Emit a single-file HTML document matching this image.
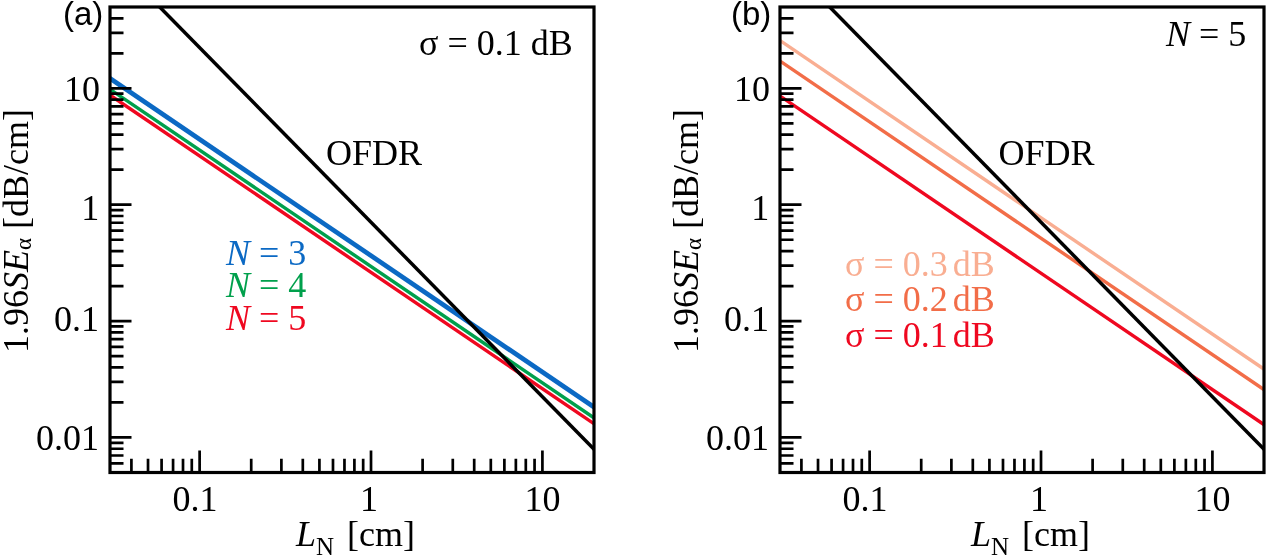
<!DOCTYPE html>
<html><head><meta charset="utf-8"><title>Figure</title>
<style>html,body{margin:0;padding:0;background:#fff;}body{width:1267px;height:557px;overflow:hidden;}svg{display:block;}</style>
</head><body>
<svg width="1267" height="557" viewBox="0 0 1267 557">
<rect width="1267" height="557" fill="#fff"/>
<g transform="translate(0,0)">
<clipPath id="clip0"><rect x="110.0" y="7.0" width="484.0" height="465.5"/></clipPath>
<g clip-path="url(#clip0)" fill="none" stroke-linecap="butt">
<path d="M105,91.75 L599,427.17" stroke="#ef0820" stroke-width="3.4"/>
<path d="M105,85.85 L599,421.27" stroke="#00a04c" stroke-width="3.4"/>
<path d="M105,75.05 L599,410.47" stroke="#0b69c4" stroke-width="4.7"/>
<path d="M105,-48.7 L599,454.44" stroke="#000" stroke-width="3.5"/>
</g>
<path d="M110.0,463.29 h13.5 M110.0,455.49 h13.5 M110.0,448.75 h13.5 M110.0,442.79 h13.5 M110.0,437.47 h21.5 M110.0,402.44 h13.5 M110.0,381.94 h13.5 M110.0,367.4 h13.5 M110.0,356.12 h13.5 M110.0,346.91 h13.5 M110.0,339.12 h13.5 M110.0,332.37 h13.5 M110.0,326.42 h13.5 M110.0,321.09 h21.5 M110.0,286.06 h13.5 M110.0,265.57 h13.5 M110.0,251.03 h13.5 M110.0,239.75 h13.5 M110.0,230.54 h13.5 M110.0,222.74 h13.5 M110.0,216 h13.5 M110.0,210.04 h13.5 M110.0,204.72 h21.5 M110.0,169.69 h13.5 M110.0,149.19 h13.5 M110.0,134.65 h13.5 M110.0,123.38 h13.5 M110.0,114.16 h13.5 M110.0,106.37 h13.5 M110.0,99.62 h13.5 M110.0,93.67 h13.5 M110.0,88.34 h21.5 M110.0,53.31 h13.5 M110.0,32.82 h13.5 M110.0,18.28 h13.5 M131.41,472.5 v-13.8 M148.02,472.5 v-13.8 M161.59,472.5 v-13.8 M173.07,472.5 v-13.8 M183.01,472.5 v-13.8 M191.78,472.5 v-13.8 M199.62,472.5 v-22 M251.21,472.5 v-13.8 M281.39,472.5 v-13.8 M302.81,472.5 v-13.8 M319.42,472.5 v-13.8 M332.99,472.5 v-13.8 M344.46,472.5 v-13.8 M354.4,472.5 v-13.8 M363.17,472.5 v-13.8 M371.01,472.5 v-22 M422.61,472.5 v-13.8 M452.79,472.5 v-13.8 M474.2,472.5 v-13.8 M490.81,472.5 v-13.8 M504.38,472.5 v-13.8 M515.86,472.5 v-13.8 M525.8,472.5 v-13.8 M534.56,472.5 v-13.8 M542.41,472.5 v-22" stroke="#000" stroke-width="2.7" fill="none"/>
<rect x="110.0" y="7.0" width="484.0" height="465.5" fill="none" stroke="#000" stroke-width="3.2"/>
<text x="63" y="24.8" font-family="&quot;Liberation Sans&quot;, Arial, sans-serif" font-size="33">(a)</text>
<text x="100" y="101.3" font-family="&quot;Liberation Serif&quot;, &quot;Times New Roman&quot;, serif" font-size="36" text-anchor="end">10</text>
<text x="99.3" y="220.2" font-family="&quot;Liberation Serif&quot;, &quot;Times New Roman&quot;, serif" font-size="36" text-anchor="end">1</text>
<text x="99" y="331.3" font-family="&quot;Liberation Serif&quot;, &quot;Times New Roman&quot;, serif" font-size="36" text-anchor="end">0.1</text>
<text x="99" y="449.8" font-family="&quot;Liberation Serif&quot;, &quot;Times New Roman&quot;, serif" font-size="36" text-anchor="end">0.01</text>
<text x="195" y="510.8" font-family="&quot;Liberation Serif&quot;, &quot;Times New Roman&quot;, serif" font-size="36" text-anchor="middle">0.1</text>
<text x="368.9" y="510.8" font-family="&quot;Liberation Serif&quot;, &quot;Times New Roman&quot;, serif" font-size="36" text-anchor="middle">1</text>
<text x="542.6" y="510.8" font-family="&quot;Liberation Serif&quot;, &quot;Times New Roman&quot;, serif" font-size="36" text-anchor="middle">10</text>
<text transform="translate(27.5,231) rotate(-90)" text-anchor="middle" font-family="&quot;Liberation Serif&quot;, &quot;Times New Roman&quot;, serif" font-size="36">1.96<tspan font-style="italic">SE</tspan><tspan font-size="23" dy="3">α</tspan><tspan dy="-3"> [dB/cm]</tspan></text>
<text x="296" y="546" font-family="&quot;Liberation Serif&quot;, &quot;Times New Roman&quot;, serif" font-size="36"><tspan font-style="italic">L</tspan><tspan font-size="25" dy="8.5">N</tspan><tspan dy="-8.5" dx="4"> [cm]</tspan></text>
<text x="326" y="164.7" font-family="&quot;Liberation Serif&quot;, &quot;Times New Roman&quot;, serif" font-size="36">OFDR</text>
<text x="419" y="54.7" font-family="&quot;Liberation Serif&quot;, &quot;Times New Roman&quot;, serif" font-size="36">σ = 0.1 dB</text>
<text x="226" y="264.6" font-family="&quot;Liberation Serif&quot;, &quot;Times New Roman&quot;, serif" font-size="36" fill="#0b69c4"><tspan font-style="italic">N</tspan> = 3</text>
<text x="226" y="297.1" font-family="&quot;Liberation Serif&quot;, &quot;Times New Roman&quot;, serif" font-size="36" fill="#00a04c"><tspan font-style="italic">N</tspan> = 4</text>
<text x="226" y="329.7" font-family="&quot;Liberation Serif&quot;, &quot;Times New Roman&quot;, serif" font-size="36" fill="#ef0820"><tspan font-style="italic">N</tspan> = 5</text>
</g>
<g transform="translate(670,0)">
<clipPath id="clip670"><rect x="110.0" y="7.0" width="484.0" height="465.5"/></clipPath>
<g clip-path="url(#clip670)" fill="none" stroke-linecap="butt">
<path d="M105,37.12 L599,372.54" stroke="#f9ae92" stroke-width="3.4"/>
<path d="M105,57.61 L599,393.04" stroke="#f26d48" stroke-width="3.4"/>
<path d="M105,92.65 L599,428.07" stroke="#ef0820" stroke-width="3.4"/>
<path d="M105,-48.7 L599,454.44" stroke="#000" stroke-width="3.5"/>
</g>
<path d="M110.0,463.29 h13.5 M110.0,455.49 h13.5 M110.0,448.75 h13.5 M110.0,442.79 h13.5 M110.0,437.47 h21.5 M110.0,402.44 h13.5 M110.0,381.94 h13.5 M110.0,367.4 h13.5 M110.0,356.12 h13.5 M110.0,346.91 h13.5 M110.0,339.12 h13.5 M110.0,332.37 h13.5 M110.0,326.42 h13.5 M110.0,321.09 h21.5 M110.0,286.06 h13.5 M110.0,265.57 h13.5 M110.0,251.03 h13.5 M110.0,239.75 h13.5 M110.0,230.54 h13.5 M110.0,222.74 h13.5 M110.0,216 h13.5 M110.0,210.04 h13.5 M110.0,204.72 h21.5 M110.0,169.69 h13.5 M110.0,149.19 h13.5 M110.0,134.65 h13.5 M110.0,123.38 h13.5 M110.0,114.16 h13.5 M110.0,106.37 h13.5 M110.0,99.62 h13.5 M110.0,93.67 h13.5 M110.0,88.34 h21.5 M110.0,53.31 h13.5 M110.0,32.82 h13.5 M110.0,18.28 h13.5 M131.41,472.5 v-13.8 M148.02,472.5 v-13.8 M161.59,472.5 v-13.8 M173.07,472.5 v-13.8 M183.01,472.5 v-13.8 M191.78,472.5 v-13.8 M199.62,472.5 v-22 M251.21,472.5 v-13.8 M281.39,472.5 v-13.8 M302.81,472.5 v-13.8 M319.42,472.5 v-13.8 M332.99,472.5 v-13.8 M344.46,472.5 v-13.8 M354.4,472.5 v-13.8 M363.17,472.5 v-13.8 M371.01,472.5 v-22 M422.61,472.5 v-13.8 M452.79,472.5 v-13.8 M474.2,472.5 v-13.8 M490.81,472.5 v-13.8 M504.38,472.5 v-13.8 M515.86,472.5 v-13.8 M525.8,472.5 v-13.8 M534.56,472.5 v-13.8 M542.41,472.5 v-22" stroke="#000" stroke-width="2.7" fill="none"/>
<rect x="110.0" y="7.0" width="484.0" height="465.5" fill="none" stroke="#000" stroke-width="3.2"/>
<text x="60.9" y="24.8" font-family="&quot;Liberation Sans&quot;, Arial, sans-serif" font-size="33">(b)</text>
<text x="100" y="101.3" font-family="&quot;Liberation Serif&quot;, &quot;Times New Roman&quot;, serif" font-size="36" text-anchor="end">10</text>
<text x="99.3" y="220.2" font-family="&quot;Liberation Serif&quot;, &quot;Times New Roman&quot;, serif" font-size="36" text-anchor="end">1</text>
<text x="99" y="331.3" font-family="&quot;Liberation Serif&quot;, &quot;Times New Roman&quot;, serif" font-size="36" text-anchor="end">0.1</text>
<text x="99" y="449.8" font-family="&quot;Liberation Serif&quot;, &quot;Times New Roman&quot;, serif" font-size="36" text-anchor="end">0.01</text>
<text x="195" y="510.8" font-family="&quot;Liberation Serif&quot;, &quot;Times New Roman&quot;, serif" font-size="36" text-anchor="middle">0.1</text>
<text x="368.9" y="510.8" font-family="&quot;Liberation Serif&quot;, &quot;Times New Roman&quot;, serif" font-size="36" text-anchor="middle">1</text>
<text x="542.6" y="510.8" font-family="&quot;Liberation Serif&quot;, &quot;Times New Roman&quot;, serif" font-size="36" text-anchor="middle">10</text>
<text transform="translate(27.5,231) rotate(-90)" text-anchor="middle" font-family="&quot;Liberation Serif&quot;, &quot;Times New Roman&quot;, serif" font-size="36">1.96<tspan font-style="italic">SE</tspan><tspan font-size="23" dy="3">α</tspan><tspan dy="-3"> [dB/cm]</tspan></text>
<text x="301" y="546" font-family="&quot;Liberation Serif&quot;, &quot;Times New Roman&quot;, serif" font-size="36"><tspan font-style="italic">L</tspan><tspan font-size="25" dy="8.5">N</tspan><tspan dy="-8.5" dx="4"> [cm]</tspan></text>
<text x="328.6" y="164.7" font-family="&quot;Liberation Serif&quot;, &quot;Times New Roman&quot;, serif" font-size="36">OFDR</text>
<text x="496" y="46.3" font-family="&quot;Liberation Serif&quot;, &quot;Times New Roman&quot;, serif" font-size="36"><tspan font-style="italic">N</tspan> = 5</text>
<text x="175" y="275.5" font-family="&quot;Liberation Serif&quot;, &quot;Times New Roman&quot;, serif" font-size="36" fill="#f9ae92">σ = 0.3<tspan dx="-4"> dB</tspan></text>
<text x="175" y="311" font-family="&quot;Liberation Serif&quot;, &quot;Times New Roman&quot;, serif" font-size="36" fill="#f26d48">σ = 0.2<tspan dx="-4"> dB</tspan></text>
<text x="175" y="346.6" font-family="&quot;Liberation Serif&quot;, &quot;Times New Roman&quot;, serif" font-size="36" fill="#ef0820">σ = 0.1<tspan dx="-4"> dB</tspan></text>
</g>
</svg>
</body></html>
